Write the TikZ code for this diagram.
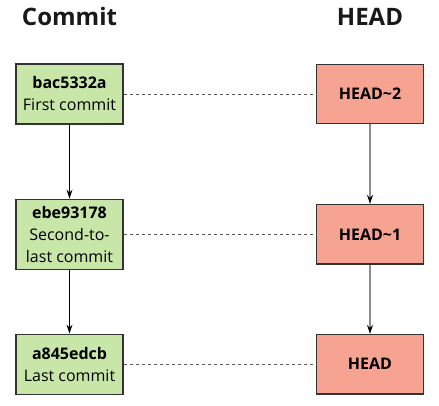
\documentclass[tikz,border=0pt]{standalone}
\usepackage{fontspec}
\setmainfont{Open Sans}
\usetikzlibrary{arrows.meta}
\definecolor{cgreen}{HTML}{C8E6A8}
\definecolor{cred}{HTML}{F6A392}
\definecolor{cedge}{HTML}{333333}
\begin{document}
\begin{tikzpicture}[x=1pt,y=-1pt,
  commitbox/.style={draw=cedge,line width=1.2pt,fill=cgreen,minimum width=107pt,inner sep=0pt,align=center,font=\fontsize{16}{22}\selectfont},
  headbox/.style={draw=cedge,line width=1.2pt,fill=cred,minimum width=106.5pt,minimum height=59.5pt,inner sep=0pt,align=center,font=\fontsize{16}{22}\selectfont\bfseries},
  title/.style={font=\fontsize{24}{28}\selectfont\bfseries,text=black!90},
  link/.style={draw=black!65,dash pattern=on 3pt off 3pt,line width=0.6pt},
  arr/.style={-{Stealth[length=9pt,width=6pt]},line width=0.8pt}]
\useasboundingbox (0,0) rectangle (439,406);
\node[title] (tc) at (69.5,17) {Commit};
\node[title] (th) at (370,17) {HEAD};
\node[commitbox,minimum height=60pt] (c1) at (69.5,94) {\textbf{bac5332a}\\First commit};
\node[commitbox,minimum height=70pt] (c2) at (69.5,234.3) {\textbf{ebe93178}\\Second-to-\\last commit};
\node[commitbox,minimum height=60pt] (c3) at (69.5,364.2) {\textbf{a845edcb}\\Last commit};
\node[headbox] (h1) at (370,94) {HEAD\textasciitilde 2};
\node[headbox] (h2) at (370,234.3) {HEAD\textasciitilde 1};
\node[headbox] (h3) at (370,364.2) {HEAD};
\draw[arr,draw=black] (c1) -- (c2);
\draw[arr,draw=black] (c2) -- (c3);
\draw[arr,draw=black!45,line width=1.2pt,-{Stealth[length=9pt,width=6pt,fill=black,color=black]}] (h1) -- (h2);
\draw[arr,draw=black!45,line width=1.2pt,-{Stealth[length=9pt,width=6pt,fill=black,color=black]}] (h2) -- (h3);
\draw[link] (c1) -- (h1);
\draw[link] (c2) -- (h2);
\draw[link] (c3) -- (h3);
\end{tikzpicture}
\end{document}
